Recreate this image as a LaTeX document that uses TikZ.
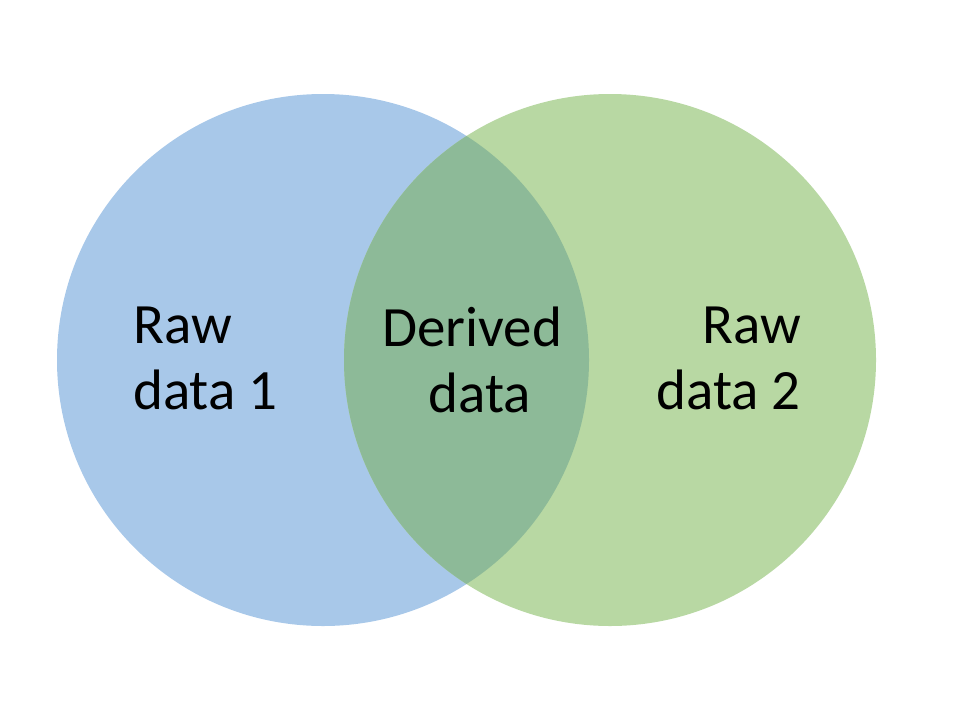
\documentclass[tikz,border=0pt]{standalone}
\usepackage{fontspec}
\setmainfont{Carlito}
\definecolor{cblue}{RGB}{168,200,233}
\definecolor{cgreen}{RGB}{184,216,163}
\definecolor{cover}{RGB}{141,186,152}
\begin{document}
\begin{tikzpicture}[x=1pt,y=-1pt,
  lbl/.style={font=\fontsize{57}{66}\selectfont, inner sep=0pt}]
\useasboundingbox (0,0) rectangle (960,720);
\fill[cblue] (323,360) circle (266);
\fill[cgreen] (610,360) circle (266);
\begin{scope}
\clip (323,360) circle (266);
\fill[cover] (610,360) circle (266);
\end{scope}
\node[lbl, align=left, anchor=west] (r1) at (133,358) {Raw\\data 1};
\node[lbl, align=center] (d) at (472,360) {Derived\\\hspace*{16pt}data};
\node[lbl, align=right, anchor=east] (r2) at (801,358) {Raw\\data 2};
\end{tikzpicture}
\end{document}
